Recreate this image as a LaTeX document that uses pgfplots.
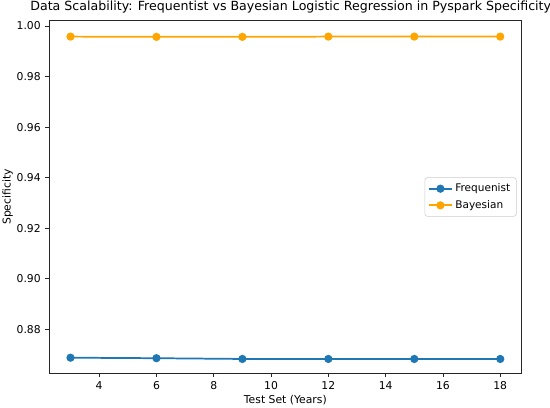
\documentclass[border=0pt]{standalone}
\usepackage{pgfplots}
\pgfplotsset{compat=1.18}
\usepackage{fontspec}
\setmainfont{DejaVu Sans}

\definecolor{mplblue}{HTML}{1F77B4}
\definecolor{mplorange}{HTML}{FFA500}

\begin{document}
\begin{tikzpicture}
\begin{axis}[
    name=ax,
    scale only axis,
    width=354.5pt, height=264.5pt,
    xmin=2.25, xmax=18.75,
    ymin=0.8626, ymax=1.0021,
    xtick={4,6,...,18},
    ytick={0.88,0.90,...,1.00},
    yticklabel style={/pgf/number format/.cd, fixed, fixed zerofill, precision=2},
    /pgf/number format/assume math mode=true,
    tick label style={font=\fontsize{8.1}{9.5}\selectfont},
    tick align=outside,
    tick pos=left,
    major tick length=2.7pt,
    axis line style={line width=0.6pt, black!85},
    every tick/.style={line width=0.6pt, black!85},
    title={Data Scalability: Frequentist vs Bayesian Logistic Regression in Pyspark Specificity},
    title style={font=\fontsize{9.45}{11.5}\selectfont, yshift=-3.5pt, xshift=4pt},
    xlabel={Test Set (Years)},
    ylabel={Specificity},
    label style={font=\fontsize{8.1}{9.5}\selectfont},
    xlabel style={yshift=3pt},
    ylabel style={yshift=-4pt},
    legend style={
        at={(0.989,0.5)}, anchor=east,
        font=\fontsize{7.9}{9.5}\selectfont,
        draw=black!20, rounded corners=2pt,
        row sep=1pt, inner sep=2.5pt,
        cells={anchor=west},
    },
    legend image post style={line width=1.3pt},
    legend cell align=left,
]
\addplot[color=mplblue, line width=1.3pt, mark=*, mark size=2.4pt]
    coordinates {(3,0.8688)(6,0.8686)(9,0.8683)(12,0.8683)(15,0.8683)(18,0.8683)};
\addlegendentry{Frequenist}
\addplot[color=mplorange, line width=1.3pt, mark=*, mark size=2.4pt]
    coordinates {(3,0.9958)(6,0.9957)(9,0.9957)(12,0.9958)(15,0.9958)(18,0.9958)};
\addlegendentry{Bayesian}
\end{axis}
\pgfresetboundingbox
\useasboundingbox ([xshift=-36.75pt,yshift=-25.3pt]ax.south west) rectangle ([xshift=21.2pt,yshift=15.5pt]ax.north east);
\end{tikzpicture}
\end{document}
